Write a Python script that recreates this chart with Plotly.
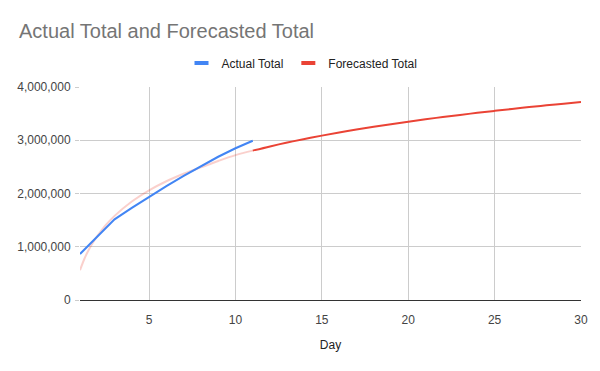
import plotly.graph_objects as go

# Data
actual_days = [1, 2, 3, 4, 5, 6, 7, 8, 9, 10, 11]
actual_total = [865000, 1200000, 1515000, 1730000, 1940000, 2140000, 2330000,
                2510000, 2690000, 2850000, 2990000]

trend_days = [1, 1.25, 1.5, 1.75, 2, 2.5, 3, 4, 5, 6, 7, 8, 9, 10, 11]
trend_total = [560000, 770000, 940000, 1080000, 1200000, 1410000, 1580000, 1850000,
               2060000, 2230000, 2370000, 2490000, 2610000, 2720000, 2805000]

forecast_days = list(range(11, 31))
forecast_total = [2805000, 2884000, 2957000, 3024000, 3087000, 3146000, 3201000,
                  3253000, 3302000, 3349000, 3394000, 3436000, 3476000, 3515000,
                  3552000, 3588000, 3623000, 3655000, 3687000, 3718000]

series_names = ["Actual Total", "Forecasted Total"]
series_colors = ["#4285F4", "#EA4335"]

x_ticks = [5, 10, 15, 20, 25, 30]
y_ticks = [0, 1000000, 2000000, 3000000, 4000000]

FONT = "Liberation Sans, Arial, sans-serif"
# page body has an 8px margin, so the figure is drawn 8px smaller
W, H = 592, 363

fig = go.Figure()
fig.add_trace(go.Scatter(x=trend_days, y=trend_total, mode="lines", showlegend=False,
                         line=dict(color="rgba(234,67,53,0.25)", width=2, shape="spline"),
                         hoverinfo="skip"))
fig.add_trace(go.Scatter(x=actual_days, y=actual_total, mode="lines", name=series_names[0],
                         showlegend=False, line=dict(color=series_colors[0], width=2)))
fig.add_trace(go.Scatter(x=forecast_days, y=forecast_total, mode="lines", name=series_names[1],
                         showlegend=False,
                         line=dict(color=series_colors[1], width=2, shape="spline")))
# legend entries drawn as short thick bars, like the original
for name, color in zip(series_names, series_colors):
    fig.add_trace(go.Scatter(x=[None], y=[None], mode="markers", name=name,
                             marker=dict(symbol="line-ew", size=10,
                                         line=dict(color=color, width=4)),
                             hoverinfo="skip"))

fig.update_layout(
    width=W, height=H,
    margin=dict(l=72, r=19, t=79, b=71, autoexpand=False),
    paper_bgcolor="white", plot_bgcolor="white",
    font=dict(family=FONT, size=12, color="#222222"),
    title=dict(text="Actual Total and Forecasted Total", x=11 / W, xref="container",
               xanchor="left", y=1 - 23 / H, yref="container", yanchor="middle",
               font=dict(size=20, color="#757575", family=FONT)),
    legend=dict(orientation="h", x=294 / W, xref="container", xanchor="center",
                y=1 - 55 / H, yref="container", yanchor="middle",
                font=dict(size=12, color="#222222"), itemwidth=30, traceorder="normal"),
    showlegend=True,
)
fig.update_xaxes(range=[1, 30], tickvals=x_ticks, showgrid=True, gridcolor="#cccccc",
                 gridwidth=1, showline=True, linecolor="#333333", linewidth=1,
                 zeroline=False, ticks="", ticklabelstandoff=9,
                 tickfont=dict(size=12, color="#444444"),
                 title=dict(text="Day", font=dict(size=12, color="#222222"), standoff=14))
fig.update_yaxes(range=[0, 4000000], tickvals=y_ticks, tickformat=",", showgrid=True,
                 gridcolor="#cccccc", gridwidth=1, zeroline=True, zerolinecolor="#333333",
                 zerolinewidth=1, ticks="outside", ticklen=4, tickcolor="#cccccc",
                 ticklabelstandoff=2,
                 tickfont=dict(size=12, color="#444444"), showline=False)

fig.write_html("out.html")
